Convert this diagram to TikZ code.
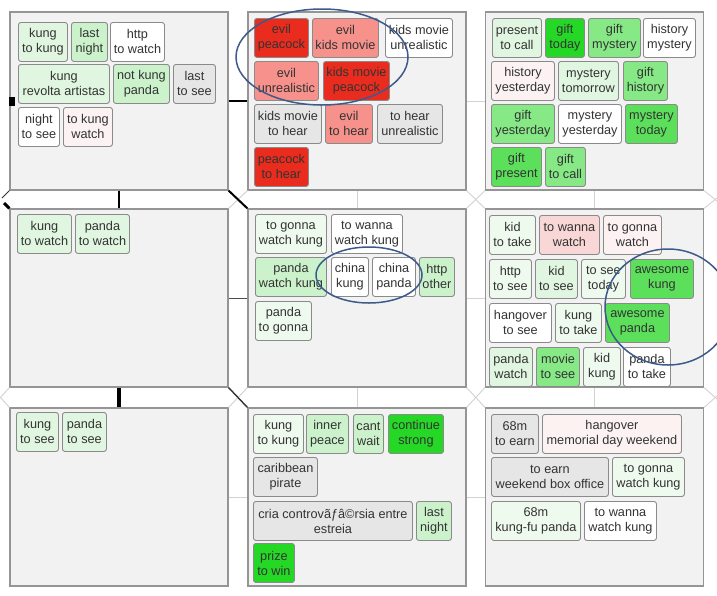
\documentclass[tikz,border=0pt]{standalone}
\usepackage{fontspec}
\setmainfont{Liberation Sans}
\newcommand*{\cellfont}{\fontsize{12.7}{15}\selectfont}
% Colours of panels, cells and rings
\definecolor{panelfill}{HTML}{F2F2F2}
\definecolor{panelline}{HTML}{959595}
\definecolor{cellline}{HTML}{8A8A8A}
\definecolor{inktext}{HTML}{333333}
\definecolor{green0}{HTML}{EFFAEF}
\definecolor{green1}{HTML}{E1F6E1}
\definecolor{green2}{HTML}{CCF2CC}
\definecolor{green3}{HTML}{86E986}
\definecolor{green4}{HTML}{5CE05C}
\definecolor{green5}{HTML}{26D826}
\definecolor{cellgray}{HTML}{E6E6E6}
\definecolor{pink0}{HTML}{FCF2F2}
\definecolor{pink1}{HTML}{F9D7D7}
\definecolor{red1}{HTML}{F7918B}
\definecolor{red2}{HTML}{EA2C1E}
\definecolor{ringblue}{HTML}{3C5A8A}
\definecolor{faintline}{HTML}{D2D2D2}

\begin{document}
\begin{tikzpicture}[x=1pt,y=-1pt,
  unit/.style={draw=panelline,fill=panelfill,line width=1.2pt,
    minimum width=218,minimum height=178,inner sep=0pt},
  cell/.style={draw=cellline,line width=0.9pt,rounded corners=2.5pt,
    anchor=north west,minimum height=39,inner xsep=1pt,inner ysep=0pt,
    align=center,text=inktext,font=\cellfont},
  link/.style={black,line width=1.6pt},
  faint/.style={faintline,line width=0.9pt},
  ring/.style={ringblue,line width=1.5pt}]
% Page is the whole screenshot
\fill[white] (0,0) rectangle (717,595);
\useasboundingbox (0,0) rectangle (717,595);
\clip (0,0) rectangle (717,595);
% The nine units of the map
\node[unit] (u11) at (119,101) {};
\node[unit] (u12) at (357,101) {};
\node[unit] (u13) at (594.5,101) {};
\node[unit] (u21) at (119,298) {};
\node[unit] (u22) at (357,298) {};
\node[unit] (u23) at (594.5,298) {};
\node[unit] (u31) at (119,497) {};
\node[unit] (u32) at (357,497) {};
\node[unit] (u33) at (594.5,497) {};
% Free ends of the links that wrap round the edges
\coordinate (wrapA) at (15,101);
\coordinate (wrapB) at (2,198);
\coordinate (wrapC) at (4,203);
\coordinate (wrapD) at (717,201);
\coordinate (wrapE) at (717,198);
\coordinate (wrapF) at (717,399);
\coordinate (wrapG) at (717,396);
\coordinate (wrapH) at (0,398);
\coordinate (wrapI) at (0,397);
% Faint links between neighbours
\draw[faint] (u12.east) -- (u13.west);
\draw[faint] (u12.south) -- (u22.north);
\draw[faint] (u13.south) -- (u23.north);
\draw[faint] (u22.east) -- (u23.west);
\draw[faint] (u22.south) -- (u32.north);
\draw[faint] (u23.south) -- (u33.north);
\draw[faint] (u31.east) -- (u32.west);
\draw[faint] (u32.east) -- (u33.west);
\draw[faint] (u12.south west) -- (u21.north east);
\draw[faint] (u12.south east) -- (u23.north west);
\draw[faint] (u13.south west) -- (u22.north east);
\draw[faint] (u22.south west) -- (u31.north east);
\draw[faint] (u22.south east) -- (u33.north west);
\draw[faint] (u23.south west) -- (u32.north east);
\draw[faint] (u13.south east) -- (wrapD);
\draw[faint] (u23.north east) -- (wrapE);
\draw[faint] (u23.south east) -- (wrapF);
\draw[faint] (u33.north east) -- (wrapG);
\draw[faint] (u21.south west) -- (wrapH);
\draw[faint] (u31.north west) -- (wrapI);
% Dark links: the close neighbours
\draw[link] (u11.east) -- (u12.west);
\draw[link] (u11.south) -- (u21.north);
\draw[link,line width=1pt,black!70] (u21.east) -- (u22.west);
\draw[link,line width=3.2pt] (u21.south) -- (u31.north);
\draw[link,line width=2pt] (u11.south east) -- (u22.north west);
\draw[link,line width=1.4pt,black!80] (u21.south east) -- (u32.north west);
\draw[link,line width=9pt] (u11.west) -- (wrapA);
\draw[link,line width=1pt,black!80] (u11.south west) -- (wrapB);
\draw[link,line width=3pt] (u21.north west) -- (wrapC);
% Cells of unit u11
\node[cell,fill=green1,minimum width=49] (a1) at (18,22) {kung\\to kung};
\node[cell,fill=green2,minimum width=36] (a2) at (71,22) {last\\night};
\node[cell,fill=white,minimum width=54] (a3) at (110,22) {http\\to watch};
\node[cell,fill=green1,minimum width=91] (a4) at (18,64) {kung\\revolta artistas};
\node[cell,fill=green2,minimum width=56] (a5) at (113,64) {not kung\\panda};
\node[cell,fill=cellgray,minimum width=42] (a6) at (173,64) {last\\to see};
\node[cell,fill=white,minimum width=41] (a7) at (18,107) {night\\to see};
\node[cell,fill=pink0,minimum width=49] (a8) at (63,107) {to kung\\watch};
% Cells of unit u12
\node[cell,fill=red2,minimum width=54] (b1) at (254,18) {evil\\peacock};
\node[cell,fill=red1,minimum width=66] (b2) at (312,18) {evil\\kids movie};
\node[cell,fill=white,minimum width=67] (b3) at (385,18) {kids movie\\unrealistic};
\node[cell,fill=red1,minimum width=64] (b4) at (254,61) {evil\\unrealistic};
\node[cell,fill=red2,minimum width=66] (b5) at (323,61) {kids movie\\peacock};
\node[cell,fill=cellgray,minimum width=67] (b6) at (254,104) {kids movie\\to hear};
\node[cell,fill=red1,minimum width=47] (b7) at (325,104) {evil\\to hear};
\node[cell,fill=cellgray,minimum width=65] (b8) at (377,104) {to hear\\unrealistic};
\node[cell,fill=red2,minimum width=54] (b9) at (254,147) {peacock\\to hear};
% Cells of unit u13
\node[cell,fill=green1,minimum width=49] (c1) at (492,18) {present\\to call};
\node[cell,fill=green5,minimum width=39] (c2) at (545,18) {gift\\today};
\node[cell,fill=green3,minimum width=52] (c3) at (588,18) {gift\\mystery};
\node[cell,fill=white,minimum width=52] (c4) at (643,18) {history\\mystery};
\node[cell,fill=pink0,minimum width=63] (c5) at (491,61) {history\\yesterday};
\node[cell,fill=green1,minimum width=60] (c6) at (558,61) {mystery\\tomorrow};
\node[cell,fill=green3,minimum width=44] (c7) at (623,61) {gift\\history};
\node[cell,fill=green3,minimum width=63] (c8) at (491,104) {gift\\yesterday};
\node[cell,fill=white,minimum width=63] (c9) at (558,104) {mystery\\yesterday};
\node[cell,fill=green4,minimum width=52] (c10) at (625,104) {mystery\\today};
\node[cell,fill=green4,minimum width=50] (c11) at (491,147) {gift\\present};
\node[cell,fill=green3,minimum width=40] (c12) at (545,147) {gift\\to call};
% Cells of unit u21
\node[cell,fill=green1,minimum width=54] (d1) at (17,214) {kung\\to watch};
\node[cell,fill=green1,minimum width=54] (d2) at (75,214) {panda\\to watch};
% Cells of unit u22
\node[cell,fill=green0,minimum width=71] (e1) at (255,214) {to gonna\\watch kung};
\node[cell,fill=white,minimum width=71] (e2) at (331,214) {to wanna\\watch kung};
\node[cell,fill=green2,minimum width=71] (e3) at (255,257) {panda\\watch kung};
\node[cell,fill=white,minimum width=37] (e4) at (331,257) {china\\kung};
\node[cell,fill=white,minimum width=43] (e5) at (372,257) {china\\panda};
\node[cell,fill=green2,minimum width=35] (e6) at (419,257) {http\\other};
\node[cell,fill=green0,minimum width=56] (e7) at (255,301) {panda\\to gonna};
% Cells of unit u23
\node[cell,fill=green0,minimum width=46] (f1) at (489,215) {kid\\to take};
\node[cell,fill=pink1,minimum width=60] (f2) at (539,215) {to wanna\\watch};
\node[cell,fill=pink0,minimum width=58] (f3) at (603,215) {to gonna\\watch};
\node[cell,fill=green0,minimum width=42] (f4) at (489,259) {http\\to see};
\node[cell,fill=green1,minimum width=42] (f5) at (535,259) {kid\\to see};
\node[cell,fill=green0,minimum width=44] (f6) at (581,259) {to see\\today};
\node[cell,fill=green4,minimum width=63] (f7) at (630,259) {awesome\\kung};
\node[cell,fill=white,minimum width=62] (f8) at (489,303) {hangover\\to see};
\node[cell,fill=green0,minimum width=46] (f9) at (555,303) {kung\\to take};
\node[cell,fill=green4,minimum width=64] (f10) at (605,303) {awesome\\panda};
\node[cell,fill=green1,minimum width=43] (f11) at (489,347) {panda\\watch};
\node[cell,fill=green3,minimum width=43] (f12) at (536,347) {movie\\to see};
\node[cell,fill=green0,minimum width=37] (f13) at (583,347) {kid\\kung};
\node[cell,fill=white,minimum width=47] (f14) at (623,347) {panda\\to take};
% Cells of unit u31
\node[cell,fill=green1,minimum width=42] (g1) at (16,412) {kung\\to see};
\node[cell,fill=green1,minimum width=44] (g2) at (62,412) {panda\\to see};
% Cells of unit u32
\node[cell,fill=green0,minimum width=50] (h1) at (253,414) {kung\\to kung};
\node[cell,fill=green2,minimum width=42] (h2) at (306,414) {inner\\peace};
\node[cell,fill=green2,minimum width=30] (h3) at (353,414) {cant\\wait};
\node[cell,fill=green5,minimum width=55] (h4) at (388,414) {continue\\strong};
\node[cell,fill=cellgray,minimum width=64] (h5) at (253,457) {caribbean\\pirate};
\node[cell,fill=cellgray,minimum width=159] (h6) at (253,501)
  {cria controvãƒâ©rsia entre\\estreia};
\node[cell,fill=green2,minimum width=35] (h7) at (416,501) {last\\night};
\node[cell,fill=green5,minimum width=41] (h8) at (253,543) {prize\\to win};
% Cells of unit u33
\node[cell,fill=cellgray,minimum width=47] (k1) at (491,414) {68m\\to earn};
\node[cell,fill=pink0,minimum width=139] (k2) at (542,414)
  {hangover\\memorial day weekend};
\node[cell,fill=cellgray,minimum width=117] (k3) at (491,457)
  {to earn\\weekend box office};
\node[cell,fill=green0,minimum width=72] (k4) at (612,457) {to gonna\\watch kung};
\node[cell,fill=green0,minimum width=89] (k5) at (491,501) {68m\\kung-fu panda};
\node[cell,fill=white,minimum width=72] (k6) at (584,501) {to wanna\\watch kung};
% Rings round the groups of interest
\draw[ring] (322,57) ellipse [x radius=86,y radius=48];
\draw[ring] (369,275) ellipse [x radius=53,y radius=28];
\draw[ring] (668,307) ellipse [x radius=63,y radius=58];
\end{tikzpicture}
\end{document}
